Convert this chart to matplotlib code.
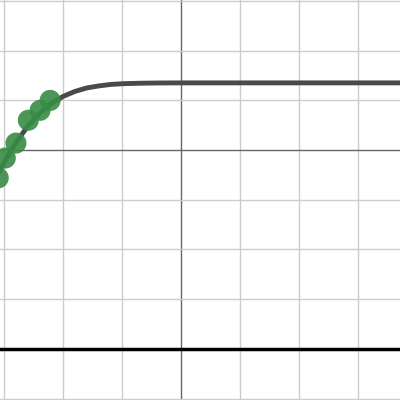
import matplotlib
matplotlib.use("Agg")
import matplotlib.pyplot as plt

pts_x = [-3.1, -2.98, -2.8, -2.59, -2.39, -2.22]
pts_y = [-0.56, -0.16, 0.14, 0.6, 0.8, 1.0]
curve_x = [-3.2, -3.0, -2.8, -2.6, -2.4, -2.2, -2.0, -1.8, -1.6, -1.4, -1.2, -1.0, -0.7, -0.4, 0.0, 3.8]
curve_y = [-0.7, -0.25, 0.15, 0.48, 0.74, 0.94, 1.08, 1.18, 1.25, 1.29, 1.32, 1.335, 1.345, 1.35, 1.352, 1.352]
hline_y = -4

fig = plt.figure(figsize=(4, 4), dpi=100)
ax = fig.add_axes([0, 0, 1, 1])
ax.set_xlim(-3.07, 3.71)
ax.set_ylim(-5.03, 3.02)
for gx in range(-3, 4):
    ax.axvline(gx, color="#cccccc" if gx else "#666666", lw=1, zorder=0)
for gy in range(-5, 4):
    ax.axhline(gy, color="#cccccc" if gy else "#666666", lw=1, zorder=0)
ax.axhline(hline_y, color="black", lw=2.5, zorder=1)
ax.plot(curve_x, curve_y, color="#4a4a4a", lw=3.5, zorder=2, solid_capstyle="round")
ax.scatter(pts_x, pts_y, s=230, color="#388c46", alpha=0.9, zorder=3, edgecolors="none")
ax.set_xticks([]); ax.set_yticks([])
for s in ax.spines.values():
    s.set_visible(False)
fig.savefig("out.png", dpi=100)
